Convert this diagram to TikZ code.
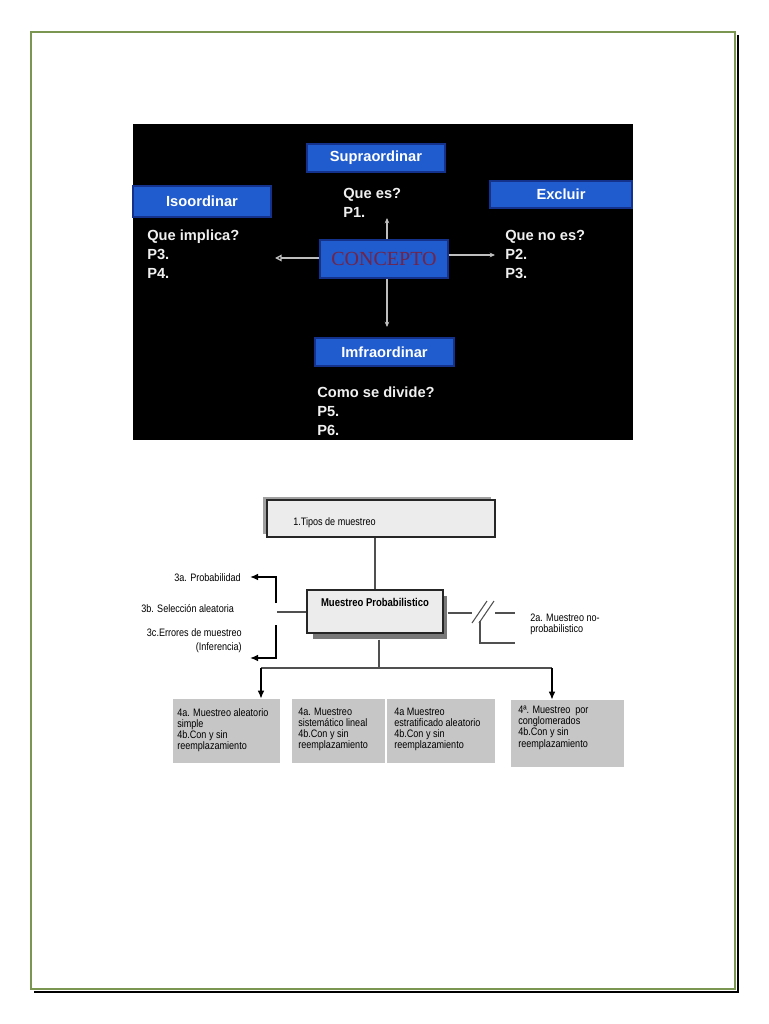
\documentclass[tikz,border=0pt]{standalone}
\usepackage{fontspec}
\setmainfont{Liberation Sans}
\newfontfamily\narrowf[FakeStretch=0.84]{Liberation Sans}
\newfontfamily\timesf{Liberation Serif}
\usetikzlibrary{arrows.meta}
\definecolor{pageGreen}{RGB}{122,150,80}
\definecolor{boxBlue}{RGB}{32,92,205}
\definecolor{boxBlueEdge}{RGB}{20,50,140}
\definecolor{conceptRed}{RGB}{115,35,70}
\definecolor{lightBox}{RGB}{236,236,236}
\definecolor{midGray}{RGB}{198,198,198}
\definecolor{shadowGray}{RGB}{120,120,120}
\definecolor{lineGray}{RGB}{80,80,80}
\definecolor{arrowGray}{RGB}{190,190,190}
\tikzset{
  blueBox/.style={draw=boxBlueEdge, line width=1pt, fill=boxBlue, text=white,
    font=\bfseries\fontsize{11}{13}\selectfont, inner sep=0pt},
  topText/.style={anchor=north west, inner sep=0pt, align=left, text=white!94!black,
    font=\bfseries\fontsize{11}{14.25}\selectfont},
  topArrow/.style={draw=arrowGray, line width=1pt, -{Stealth[length=4pt,width=3.5pt]}},
  topArrowOpen/.style={draw=arrowGray, line width=1pt, -{Triangle[open,length=5pt,width=5pt]}},
  smallText/.style={inner sep=0pt, font=\narrowf\fontsize{8.1}{8.3}\selectfont},
  grayBox/.style={fill=midGray, draw=none, inner sep=0pt},
  lightBoxStyle/.style={fill=lightBox, draw=black!85, line width=0.8pt, inner sep=0pt},
  connLine/.style={draw=lineGray, line width=0.8pt},
  blackArrow/.style={draw=black, line width=1.1pt, -{Latex[length=6pt,width=5pt]}},
}
\begin{document}
\begin{tikzpicture}[x=0.75pt,y=-0.75pt]
\useasboundingbox (0,0) rectangle (768,1024);
\fill[white] (0,0) rectangle (768,1024);
% page frame
\draw[black, line width=2.2pt] (738,35) -- (738,992) -- (34,992);
\draw[pageGreen, line width=1.6pt] (31,32) rectangle (735,989);

% ---------------- top picture ----------------
\fill[black] (133,124) rectangle (633,440);
\node[blueBox, minimum width=103.5pt, minimum height=21pt] (supra) at (376,158) {Supraordinar};
\node[blueBox, minimum width=103.5pt, minimum height=23.25pt] (iso) at (202,201.5) {Isoordinar};
\node[blueBox, minimum width=106.5pt, minimum height=20.25pt] (excl) at (561,194.5) {Excluir};
\node[blueBox, minimum width=96pt, minimum height=28.5pt, text=conceptRed,
      font=\timesf\fontsize{15}{17}\selectfont] (concepto) at (384,259) {CONCEPTO};
\node[blueBox, minimum width=104.25pt, minimum height=21pt] (imfra) at (384.5,352) {Imfraordinar};

\node[topText] (queEs) at (343,187.5) {Que es?\\P1.};
\node[topText] (queImplica) at (147,229.5) {Que implica?\\P3.\\P4.};
\node[topText] (queNoEs) at (505,229.5) {Que no es?\\P2.\\P3.};
\node[topText] (comoSe) at (317,386.5) {Como se divide?\\P5.\\P6.};

\coordinate (upEnd) at (387,218);
\coordinate (downEnd) at (387,327);
\coordinate (leftEnd) at (275,258);
\coordinate (rightEnd) at (495,255);
\draw[topArrow] (concepto.north -| upEnd) -- (upEnd);
\draw[topArrow] (concepto.south -| downEnd) -- (downEnd);
\draw[topArrowOpen] (concepto.west |- leftEnd) -- (leftEnd);
\draw[topArrow] (concepto.east |- rightEnd) -- (rightEnd);

% ---------------- bottom diagram ----------------
% Tipos box with shadow
\fill[shadowGray!70] (263,497) rectangle (491,534);
\node[lightBoxStyle, minimum width=171pt, minimum height=27.75pt] (tipos) at (381,518.5) {};
\node[smallText, anchor=north west] (tiposText) at (293,517) {1.Tipos de muestreo};

% Muestreo probabilistico box with shadow
\fill[shadowGray] (313,596) rectangle (447,639);
\node[lightBoxStyle, minimum width=102pt, minimum height=32.25pt] (mp) at (375,611.5) {};
\node[inner sep=0pt, font=\narrowf\bfseries\fontsize{8.5}{10}\selectfont] (mpText) at (375,602) {Muestreo Probabilistico};

\draw[connLine] (tipos.south -| mp.north) -- (mp.north);

% left bracket
\coordinate (lJoin) at (277,612);
\coordinate (bTop) at (276,603);
\coordinate (bBot) at (276,625);
\coordinate (aTop) at (250,577);
\coordinate (aBot) at (250,658);
\draw[connLine] (mp.west |- lJoin) -- (lJoin);
\draw[blackArrow] (bTop) -- (bTop |- aTop) -- (aTop);
\draw[blackArrow] (bBot) -- (bBot |- aBot) -- (aBot);
\node[smallText, anchor=north east, align=right] (t3a) at (241,573) {3a. Probabilidad};
\node[smallText, anchor=north west, align=left] (t3b) at (141,604) {3b. Selección aleatoria};
\node[smallText, anchor=north east, align=right, font=\narrowf\fontsize{8.1}{10.5}\selectfont] (t3c) at (242,628) {3c.Errores de muestreo\\(Inferencia)};

% right side (no probabilistico)
\coordinate (r1) at (472,613);
\coordinate (r2) at (495,613);
\coordinate (r3) at (515,613);
\coordinate (s1a) at (472,623);
\coordinate (s1b) at (487,601);
\coordinate (s2a) at (479,623);
\coordinate (s2b) at (494,601);
\coordinate (v1) at (480,621);
\coordinate (v2) at (480,643);
\coordinate (v3) at (515,643);
\draw[connLine] (mp.east |- r1) ++(4,0) -- (r1);
\draw[connLine] (s1a) -- (s1b);
\draw[connLine] (s2a) -- (s2b);
\draw[connLine] (r2) -- (r3);
\draw[connLine] (v1) -- (v2) -- (v3);
\node[smallText, anchor=north west, align=left] (t2a) at (530,614) {2a. Muestreo no-\\probabilistico};

% bottom branch
\coordinate (hMid) at (379,668);
\coordinate (hL) at (261,668);
\coordinate (hR) at (552,668);
\draw[connLine] (mp.south -| hMid) ++(0,6) -- (hMid);
\draw[connLine] (hL) -- (hR);

% gray boxes
\node[grayBox, minimum width=80.25pt, minimum height=48pt] (b1) at (226.5,731) {};
\node[grayBox, minimum width=69.75pt, minimum height=48pt] (b2) at (338.5,731) {};
\node[grayBox, minimum width=81pt, minimum height=48pt] (b3) at (441,731) {};
\node[grayBox, minimum width=84.75pt, minimum height=50.25pt] (b4) at (567.5,733.5) {};
\draw[blackArrow] (hL) -- (hL |- b1.north);
\draw[blackArrow] (hR) -- (hR |- b4.north);

\node[smallText, anchor=north west, align=left] (b1t) at (177,708) {4a. Muestreo aleatorio\\simple\\4b.Con y sin\\reemplazamiento};
\node[smallText, anchor=north west, align=left] (b2t) at (298,708) {4a. Muestreo\\sistemático lineal\\4b.Con y sin\\reemplazamiento};
\node[smallText, anchor=north west, align=left] (b3t) at (394,708) {4a Muestreo\\estratificado aleatorio\\4b.Con y sin\\reemplazamiento};
\node[smallText, anchor=north west, align=left] (b4t) at (518,706) {4ª. Muestreo\ \ por\\conglomerados\\4b.Con y sin\\reemplazamiento};
\end{tikzpicture}
\end{document}
